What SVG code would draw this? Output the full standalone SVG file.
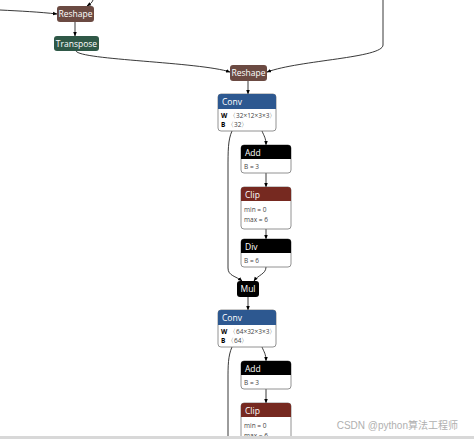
<svg xmlns="http://www.w3.org/2000/svg" width="474" height="439" viewBox="0 0 474 439">
<defs>
<marker id="ah" viewBox="0 0 10 10" refX="9" refY="5" markerWidth="5" markerHeight="5" orient="auto">
<path d="M0,1 L10,5 L0,9 z" fill="#000"/>
</marker>
<style>
.hd{font-family:"Open Sans","Noto Sans",sans-serif;font-size:8.5px;fill:#fff}
.at{font-family:"Open Sans","Noto Sans",sans-serif;font-size:6.5px;fill:#444}
.ab{font-weight:bold;fill:#000}
.body{fill:#fff;stroke:#777;stroke-width:0.8}
.e{fill:none;stroke:#222;stroke-width:0.9;marker-end:url(#ah)}
.en{fill:none;stroke:#222;stroke-width:0.9}
</style>
</defs>
<rect width="474" height="439" fill="#fff"/>
<g id="connectors">
<path class="e" d="M0,10 C20,11 40,12 57,14"/>
<path class="e" d="M93,0 C92,3 90,4 87,6"/>
<path class="e" d="M75,22 L75,36"/>
<path class="e" d="M76,51 C80,60 200,62 230,72"/>
<path class="e" d="M383,0 L383,45 C383,58 300,60 267,72"/>
<path class="e" d="M248,81 L248,94"/>
<path class="e" d="M262,131 C264,136 266,138 266,145"/>
<path class="e" d="M232,131 C228,140 228,150 228,170 L228,268 C228,276 236,276 242,281"/>
<path class="e" d="M266,173 L266,187"/>
<path class="e" d="M266,229 L266,239"/>
<path class="e" d="M266,267 C266,274 258,275 254,281"/>
<path class="e" d="M248,297 L248,310"/>
<path class="e" d="M262,347 C264,352 266,354 266,361"/>
<path class="en" d="M232,347 C228,356 228,366 228,380 L228,439"/>
<path class="e" d="M266,389 L266,403"/>
</g>
<g id="reshape1">
<rect x="57" y="6" width="37" height="16" rx="3" fill="#6b4a42"/>
<text class="hd" x="75.5" y="17" text-anchor="middle">Reshape</text>
</g>
<g id="transpose">
<rect x="54" y="36" width="45" height="15" rx="3" fill="#2f5847"/>
<text class="hd" x="76.5" y="46.5" text-anchor="middle">Transpose</text>
</g>
<g id="reshape2">
<rect x="230" y="65" width="37" height="16" rx="3" fill="#6b4a42"/>
<text class="hd" x="248.5" y="76" text-anchor="middle">Reshape</text>
</g>
<g id="conv1">
<rect class="body" x="218" y="94" width="58" height="37" rx="3"/>
<path d="M218,109 L218,97 Q218,94 221,94 L273,94 Q276,94 276,97 L276,109 Z" fill="#2d5890"/>
<text class="hd" x="222" y="104.5">Conv</text>
<text class="at" x="221" y="118"><tspan class="ab">W</tspan> 〈32×12×3×3〉</text>
<text class="at" x="221" y="127"><tspan class="ab">B</tspan> 〈32〉</text>
</g>
<g id="add1">
<rect class="body" x="241" y="145" width="50" height="28" rx="3"/>
<path d="M241,159 L241,148 Q241,145 244,145 L288,145 Q291,145 291,148 L291,159 Z" fill="#000"/>
<text class="hd" x="245" y="155.5">Add</text>
<text class="at" x="244" y="169">B = 3</text>
</g>
<g id="clip1">
<rect class="body" x="241" y="187" width="50" height="42" rx="3"/>
<path d="M241,201 L241,190 Q241,187 244,187 L288,187 Q291,187 291,190 L291,201 Z" fill="#762920"/>
<text class="hd" x="245" y="197.5">Clip</text>
<text class="at" x="244" y="212">min = 0</text>
<text class="at" x="244" y="222">max = 6</text>
</g>
<g id="div1">
<rect class="body" x="241" y="239" width="50" height="28" rx="3"/>
<path d="M241,253 L241,242 Q241,239 244,239 L288,239 Q291,239 291,242 L291,253 Z" fill="#000"/>
<text class="hd" x="245" y="249.5">Div</text>
<text class="at" x="244" y="263">B = 6</text>
</g>
<g id="mul1">
<rect x="237" y="281" width="22" height="16" rx="3" fill="#000"/>
<text class="hd" x="248" y="292" text-anchor="middle">Mul</text>
</g>
<g id="conv2">
<rect class="body" x="218" y="310" width="58" height="37" rx="3"/>
<path d="M218,325 L218,313 Q218,310 221,310 L273,310 Q276,310 276,313 L276,325 Z" fill="#2d5890"/>
<text class="hd" x="222" y="320.5">Conv</text>
<text class="at" x="221" y="334"><tspan class="ab">W</tspan> 〈64×32×3×3〉</text>
<text class="at" x="221" y="343"><tspan class="ab">B</tspan> 〈64〉</text>
</g>
<g id="add2">
<rect class="body" x="241" y="361" width="50" height="28" rx="3"/>
<path d="M241,375 L241,364 Q241,361 244,361 L288,361 Q291,361 291,364 L291,375 Z" fill="#000"/>
<text class="hd" x="245" y="371.5">Add</text>
<text class="at" x="244" y="385">B = 3</text>
</g>
<g id="clip2">
<rect class="body" x="241" y="403" width="50" height="42" rx="3"/>
<path d="M241,417 L241,406 Q241,403 244,403 L288,403 Q291,403 291,406 L291,417 Z" fill="#762920"/>
<text class="hd" x="245" y="413.5">Clip</text>
<text class="at" x="244" y="428">min = 0</text>
<text class="at" x="244" y="438">max = 6</text>
</g>
<rect x="0" y="436" width="474" height="3" fill="#d8d8d8"/>
<text x="458" y="429" text-anchor="end" font-family="'Liberation Sans','Noto Sans CJK SC',sans-serif" font-size="10" fill="#b0b0b0">CSDN @python算法工程师</text>
</svg>
